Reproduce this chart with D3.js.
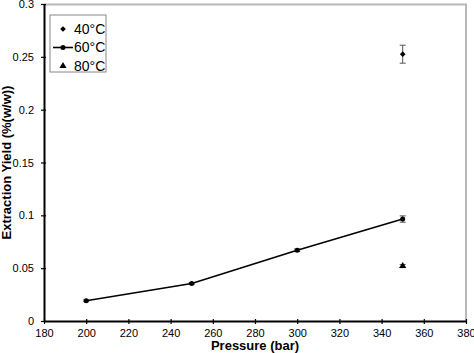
<!DOCTYPE html>
<html>
<head>
<meta charset="utf-8">
<script src="https://cdn.jsdelivr.net/npm/d3@7"></script>
<style>
	body { margin: 0; background: #fff; }
	svg text { font-family: Arial, "Liberation Sans", sans-serif; }
</style>
</head>
<body>
<div id="wrapper"></div>
<script>
// data
const pressure60 = [200, 250, 300, 350];
const yield60 = [0.0192, 0.0355, 0.067, 0.0965];
const err60 = [0.0008, 0.0008, 0.0012, 0.003];
const pressure40 = [350];
const yield40 = [0.2525];
const err40 = [0.0085];
const pressure80 = [350];
const yield80 = [0.052];
const err80 = [0.0015];
const xTicks = [180, 200, 220, 240, 260, 280, 300, 320, 340, 360, 380];
const yTicks = [0, 0.05, 0.1, 0.15, 0.2, 0.25, 0.3];
const legendLabels = ["40°C", "60°C", "80°C"];

function drawChart(){
	let dimensions = {
		width: 474,
		height: 353,
		margin: { top: 4, right: 8, bottom: 32, left: 44 }
	};
	dimensions.boundedWidth = dimensions.width - dimensions.margin.left - dimensions.margin.right;
	dimensions.boundedHeight = dimensions.height - dimensions.margin.top - dimensions.margin.bottom;

	const wrapper = d3.select("#wrapper").append("svg")
		.attr("width", dimensions.width)
		.attr("height", dimensions.height);

	const bounds = wrapper.append("g")
		.attr("transform", `translate(${dimensions.margin.left},${dimensions.margin.top})`);

	const xScale = d3.scaleLinear().domain([180, 380]).range([0, dimensions.boundedWidth]);
	const yScale = d3.scaleLinear().domain([0, 0.3]).range([dimensions.boundedHeight, 0]);

	// gray frame top and right
	bounds.append("path")
		.attr("d", `M0,0.5H${dimensions.boundedWidth}V${dimensions.boundedHeight}`)
		.attr("fill", "none")
		.attr("stroke", "#b8b8b8")
		.attr("stroke-width", 2);

	// axes
	const xAxis = bounds.append("g")
		.attr("transform", `translate(0,${dimensions.boundedHeight})`)
		.call(d3.axisBottom(xScale).tickValues(xTicks).tickSize(4).tickSizeOuter(0).tickFormat(d3.format("d")));
	const yAxis = bounds.append("g")
		.call(d3.axisLeft(yScale).tickValues(yTicks).tickSize(4).tickSizeOuter(0).tickFormat(d => d === 0 ? "0" : String(d)));

	[xAxis, yAxis].forEach(ax => {
		ax.select(".domain").attr("stroke", "#000").attr("stroke-width", 2);
		ax.selectAll(".tick line").attr("stroke", "#000").attr("stroke-width", 1.2);
		ax.selectAll(".tick text").attr("font-size", 11).attr("fill", "#000");
	});
	xAxis.selectAll(".tick line").attr("y1", -2).attr("y2", 3);
	xAxis.selectAll(".tick text").attr("dy", "0.71em").attr("y", 8);
	yAxis.selectAll(".tick line").attr("x1", 2).attr("x2", -3);
	yAxis.selectAll(".tick text").attr("x", -10);

	// axis labels
	bounds.append("text")
		.attr("x", dimensions.boundedWidth / 2)
		.attr("y", dimensions.boundedHeight + 29)
		.attr("text-anchor", "middle")
		.attr("font-size", 13)
		.attr("font-weight", "bold")
		.text("Pressure (bar)");
	bounds.append("text")
		.attr("transform", `translate(${-33},${dimensions.boundedHeight / 2}) rotate(-90)`)
		.attr("text-anchor", "middle")
		.attr("font-size", 13)
		.attr("font-weight", "bold")
		.text("Extraction Yield (%(w/w))");

	// error bars
	function errorBars(xs, ys, es){
		const g = bounds.append("g").attr("stroke", "#555").attr("stroke-width", 1);
		xs.forEach((p, i) => {
			const x = xScale(p);
			const y1 = yScale(ys[i] - es[i]);
			const y2 = yScale(ys[i] + es[i]);
			g.append("line").attr("x1", x).attr("x2", x).attr("y1", y1).attr("y2", y2);
			g.append("line").attr("x1", x - 3).attr("x2", x + 3).attr("y1", y1).attr("y2", y1);
			g.append("line").attr("x1", x - 3).attr("x2", x + 3).attr("y1", y2).attr("y2", y2);
		});
	}
	errorBars(pressure40, yield40, err40);
	errorBars(pressure60, yield60, err60);
	errorBars(pressure80, yield80, err80);

	// 60 line
	const line = d3.line().x((d, i) => xScale(pressure60[i])).y(d => yScale(d));
	bounds.append("path")
		.datum(yield60)
		.attr("d", line)
		.attr("fill", "none")
		.attr("stroke", "#000")
		.attr("stroke-width", 1.6);

	const diamond = d3.symbol().type(d3.symbolSquare).size(16);
	const circle = d3.symbol().type(d3.symbolCircle).size(20);
	const triangle = d3.symbol().type(d3.symbolTriangle).size(22);

	bounds.selectAll(".p40").data(yield40).enter().append("path")
		.attr("d", diamond)
		.attr("transform", (d, i) => `translate(${xScale(pressure40[i])},${yScale(d)}) rotate(45)`)
		.attr("fill", "#000");
	bounds.selectAll(".p60").data(yield60).enter().append("path")
		.attr("d", circle)
		.attr("transform", (d, i) => `translate(${xScale(pressure60[i])},${yScale(d)})`)
		.attr("fill", "#000");
	bounds.selectAll(".p80").data(yield80).enter().append("path")
		.attr("d", triangle)
		.attr("transform", (d, i) => `translate(${xScale(pressure80[i])},${yScale(d)})`)
		.attr("fill", "#000");

	// legend
	const legend = bounds.append("g").attr("transform", "translate(6,11)");
	legend.append("rect")
		.attr("width", 56).attr("height", 57)
		.attr("fill", "#fff")
		.attr("stroke", "#888")
		.attr("stroke-width", 1);
	const symbols = [diamond, circle, triangle];
	legendLabels.forEach((lab, i) => {
		const y = 14 + i * 18.5;
		if (i === 1) {
			legend.append("line").attr("x1", 3).attr("x2", 23).attr("y1", y).attr("y2", y)
				.attr("stroke", "#000").attr("stroke-width", 1.6);
		}
		legend.append("path").attr("d", symbols[i])
			.attr("transform", `translate(13,${y})` + (i === 0 ? " rotate(45)" : ""))
			.attr("fill", "#000");
		legend.append("text")
			.attr("x", 24).attr("y", y)
			.attr("dy", "0.35em")
			.attr("font-size", 14)
			.text(lab);
	});
}

drawChart();
</script>
</body>
</html>
